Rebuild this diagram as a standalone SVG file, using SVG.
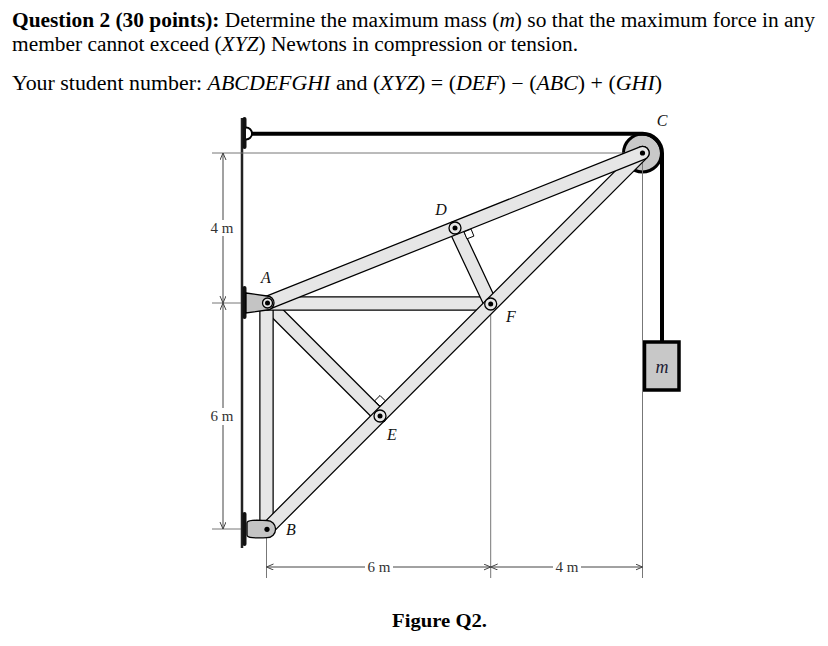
<svg xmlns="http://www.w3.org/2000/svg" width="828" height="646" viewBox="0 0 828 646">
<defs>
<style>
.t{font-family:"Liberation Serif","Times New Roman",serif;font-size:20px;fill:#000}
.b{font-weight:bold}
.i{font-style:italic}
.lbl{font-family:"Liberation Serif","Times New Roman",serif;font-style:italic;font-size:16px;fill:#111;text-anchor:middle}
.dimt{font-family:"Liberation Serif","Times New Roman",serif;font-size:15px;fill:#333;text-anchor:middle}
.ext{stroke:#777;stroke-width:1;fill:none}
.dim{stroke:#444;stroke-width:1;fill:none;marker-end:url(#arr)}
.mo{stroke:#000;stroke-width:14.5;stroke-linecap:round;fill:none}
.mi{stroke:#e6e6e6;stroke-width:12;stroke-linecap:round;fill:none}
.pin{fill:#e6e6e6;stroke:#000;stroke-width:1.3}
.dot{fill:#000}
.sq{fill:#fff;stroke:#000;stroke-width:1}
.brk{fill:#c4c4c4;stroke:#000;stroke-width:1.3}
</style>
<marker id="arr" markerWidth="8" markerHeight="8" refX="7" refY="3" orient="auto" markerUnits="userSpaceOnUse">
<path d="M0,0 L7,3 L0,6" fill="none" stroke="#444" stroke-width="1"/>
</marker>
</defs>

<g id="title">
<text class="t" x="12" y="27" textLength="803" lengthAdjust="spacingAndGlyphs"><tspan class="b">Question 2 (30 points):</tspan> Determine the maximum mass (<tspan class="i">m</tspan>) so that the maximum force in any</text>
<text class="t" x="12" y="51" textLength="566" lengthAdjust="spacingAndGlyphs">member cannot exceed (<tspan class="i">XYZ</tspan>) Newtons in compression or tension.</text>
<text class="t" x="12" y="90" textLength="650" lengthAdjust="spacingAndGlyphs">Your student number: <tspan class="i">ABCDEFGHI</tspan> and (<tspan class="i">XYZ</tspan>) = (<tspan class="i">DEF</tspan>) − (<tspan class="i">ABC</tspan>) + (<tspan class="i">GHI</tspan>)</text>
</g>

<g id="wall">
<line x1="242" y1="118" x2="242" y2="548" stroke="#222" stroke-width="2.5"/>
<line x1="244.5" y1="119" x2="244.5" y2="147" stroke="#111" stroke-width="4" stroke-linecap="round"/>
<line x1="244.5" y1="288" x2="244.5" y2="317" stroke="#111" stroke-width="4" stroke-linecap="round"/>
<line x1="244.5" y1="514" x2="244.5" y2="544" stroke="#111" stroke-width="4" stroke-linecap="round"/>
<path d="M246,127.5 A6,6 0 0 1 246,139.5" fill="#fff" stroke="#000" stroke-width="1.8"/>
</g>

<g id="pulley">
<circle cx="642.5" cy="153" r="19" fill="#c8c8c8" stroke="#000" stroke-width="3"/>
</g>

<g id="rope">
<path d="M251,133.8 H642.5 A19.5,19.5 0 0 1 662,153.3 V341" fill="none" stroke="#000" stroke-width="4"/>
</g>

<g id="mass">
<rect x="644.5" y="342" width="34.5" height="48" fill="#c8c8c8" stroke="#000" stroke-width="3.5"/>
<text x="662" y="373" class="lbl" style="font-size:18px;fill:#1a1a33">m</text>
</g>

<g id="dimensions">
<line class="ext" x1="212" y1="153" x2="642.5" y2="153"/>
<line class="ext" x1="212" y1="303" x2="241" y2="303"/>
<line class="ext" x1="212" y1="529" x2="241" y2="529"/>
<line class="ext" x1="266.5" y1="537" x2="266.5" y2="578"/>
<line class="ext" x1="490.7" y1="304" x2="490.7" y2="578"/>
<line class="ext" x1="642.5" y1="153" x2="642.5" y2="578"/>
<path class="dim" d="M223,220 V153"/>
<path class="dim" d="M223,236 V303"/>
<path class="dim" d="M223,408 V303"/>
<path class="dim" d="M223,425 V529"/>
<path class="dim" d="M365,567 H266.5"/>
<path class="dim" d="M393,567 H490.7"/>
<path class="dim" d="M553,567 H490.7"/>
<path class="dim" d="M581,567 H642.5"/>
<text class="dimt" x="222" y="233">4 m</text>
<text class="dimt" x="222" y="421">6 m</text>
<text class="dimt" x="379" y="572">6 m</text>
<text class="dimt" x="567" y="572">4 m</text>
</g>

<g id="members">
<g id="member-AE"><line class="mo" x1="267" y1="303" x2="380" y2="416"/><line class="mi" x1="267" y1="303" x2="380" y2="416"/></g>
<g id="member-AB"><line class="mo" style="stroke-linecap:butt" x1="266.5" y1="305" x2="266.5" y2="524"/><line class="mi" style="stroke-linecap:butt" x1="266.5" y1="305" x2="266.5" y2="524"/></g>
<g id="member-AF"><line class="mo" x1="267" y1="303.5" x2="490.7" y2="303.5"/><line class="mi" x1="267" y1="303.5" x2="490.7" y2="303.5"/></g>
<g id="member-DF"><line class="mo" x1="455" y1="228" x2="490.7" y2="304"/><line class="mi" x1="455" y1="228" x2="490.7" y2="304"/></g>
<g id="member-BC"><line class="mo" x1="267" y1="529" x2="642.5" y2="153"/><line class="mi" x1="267" y1="529" x2="642.5" y2="153"/></g>
<g id="member-AC"><line class="mo" x1="267" y1="303" x2="642.5" y2="153"/><line class="mi" x1="267" y1="303" x2="642.5" y2="153"/></g>
</g>

<g id="support-A">
<path class="brk" d="M246,293 L267,296 A7,7 0 0 1 267,310 L246,313 Z"/>
</g>
<g id="support-B">
<path class="brk" d="M247,523 C247,519 261,520.5 267,520.5 A8.6,8.6 0 0 1 267,537.7 C261,537.7 247,539 247,535 Z"/>
</g>

<g id="right-angles">
<polygon class="sq" points="464.1,231.9 471.1,229.1 473.9,236.1 466.9,238.9"/>
<polygon class="sq" points="380,406.1 385.3,400.8 380,395.5 374.7,400.8"/>
</g>

<g id="pins">
<g id="node-A"><circle class="pin" cx="267.5" cy="303" r="5"/><circle class="dot" cx="267.5" cy="303" r="2.5"/><text class="lbl" x="266" y="283">A</text></g>
<g id="node-B"><circle class="dot" cx="267" cy="529.3" r="2.6"/><text class="lbl" x="291" y="535">B</text></g>
<g id="node-C"><circle class="dot" cx="642.5" cy="153" r="2.6"/><text class="lbl" x="662" y="126">C</text></g>
<g id="node-D"><circle class="pin" cx="455" cy="228" r="6"/><circle class="dot" cx="455" cy="228" r="2.5"/><text class="lbl" x="441" y="215">D</text></g>
<g id="node-E"><circle class="pin" cx="380" cy="416" r="6"/><circle class="dot" cx="380" cy="416" r="2.5"/><text class="lbl" x="392" y="440">E</text></g>
<g id="node-F"><circle class="pin" cx="490.7" cy="304" r="6"/><circle class="dot" cx="490.7" cy="304" r="2.5"/><text class="lbl" x="511" y="322">F</text></g>
</g>

<g id="caption">
<text class="t b" x="392" y="627" style="font-size:19px" textLength="95" lengthAdjust="spacingAndGlyphs">Figure Q2.</text>
</g>
</svg>
